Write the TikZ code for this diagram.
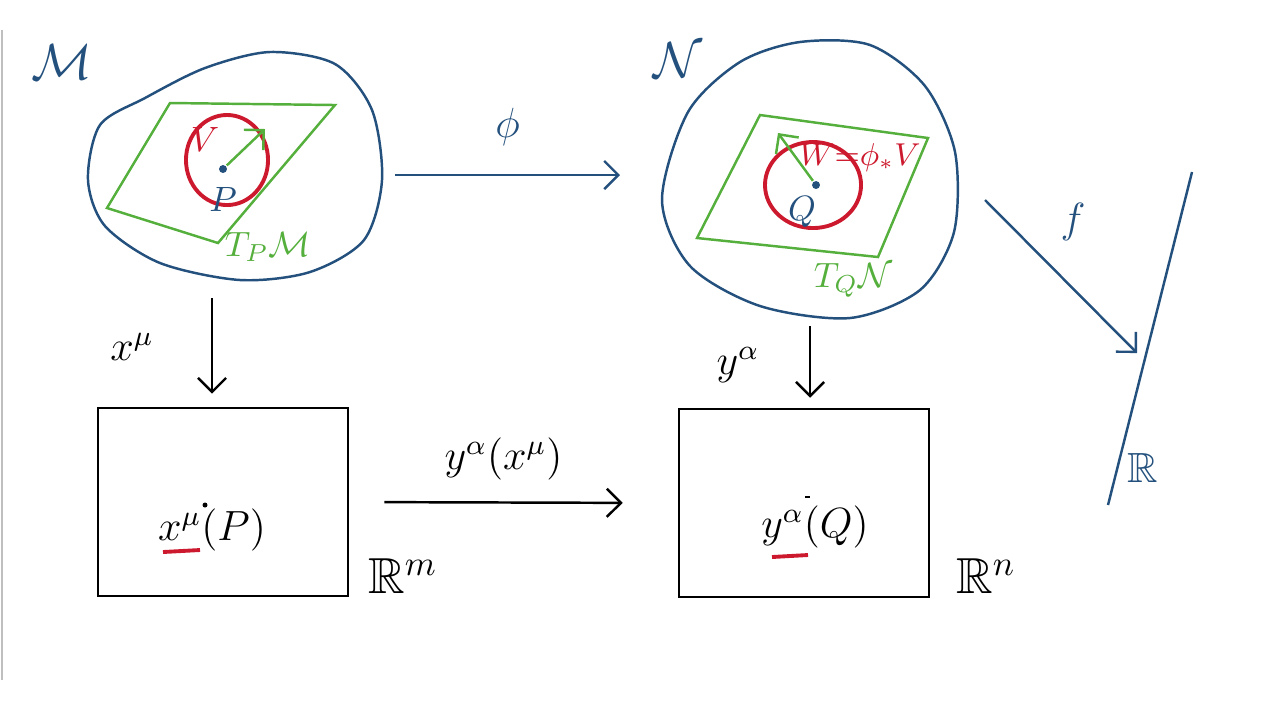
\documentclass[tikz,border=0pt]{standalone}
\usepackage{amssymb}
\usetikzlibrary{arrows.meta}
\definecolor{inkblue}{RGB}{35,80,125}
\definecolor{inkgreen}{RGB}{85,175,60}
\definecolor{inkred}{RGB}{205,25,45}

\begin{document}
\begin{tikzpicture}[x=0.01cm,y=-0.01cm,line width=0.7pt,>={Straight Barb[length=4pt,width=8pt]},
    lbl/.style={font=\large,inner sep=1pt},
    dot/.style={circle,fill=inkblue,inner sep=0.8pt},
    chart/.style={draw,black,minimum width=2.5cm,minimum height=1.88cm}]
  \useasboundingbox (0,0) rectangle (1280,720);
  \draw[black!25,line width=0.5pt] (2,30) -- (2,680);

  % Manifolds
  \draw[inkblue] plot[smooth cycle] coordinates {(88,180) (100,125) (145,98) (205,68) (270,52)
    (335,64) (372,110) (382,180) (364,240) (310,272) (240,280) (160,263) (105,226)};
  \draw[inkblue] plot[smooth cycle] coordinates {(662,200) (688,112) (740,62) (800,42) (870,45)
    (925,86) (955,152) (954,232) (920,290) (850,318) (760,306) (690,266)};
  \node[inkblue,font=\Large] (mname) at (62,62) {$\mathcal{M}$};
  \node[inkblue,font=\Large] (nname) at (678,60) {$\mathcal{N}$};

  % Tangent spaces
  \draw[inkgreen] (107,208) -- (170,103) -- (335,105) -- (218,243) -- cycle;
  \draw[inkgreen] (697,238) -- (760,115) -- (928,138) -- (878,257) -- cycle;
  \draw[inkred,line width=1.1pt] (227,160) ellipse [x radius=0.41cm,y radius=0.45cm];
  \draw[inkred,line width=1.1pt] (813,185) ellipse [x radius=0.48cm,y radius=0.43cm];

  % Points and vectors
  \node[dot] (p) at (223,169) {};
  \node[dot] (q) at (816,185) {};
  \coordinate (vtip) at (265,129);
  \coordinate (wtip) at (778,133);
  \draw[->,inkgreen] (p) -- (vtip);
  \draw[->,inkgreen] (q) -- (wtip);
  \node[inkred,inner sep=1pt] (vname) at (205,139) {$V$};
  \node[inkblue,inner sep=1pt] (pname) at (223,199) {$P$};
  \node[inkgreen,inner sep=1pt] (tpm) at (268,247) {$T_P\mathcal{M}$};
  \node[inkred,inner sep=1pt,font=\small] (wname) at (860,158) {$W{=}\phi_*V$};
  \node[inkblue,inner sep=1pt] (qname) at (802,212) {$Q$};
  \node[inkgreen,inner sep=1pt] (tqn) at (853,280) {$T_Q\mathcal{N}$};

  % Maps between manifolds
  \coordinate (mright) at (395,175);
  \coordinate (nleft) at (620,175);
  \draw[->,inkblue] (mright) -- node[lbl,above=7pt] {$\phi$} (nleft);
  \coordinate (nout) at (985,200);
  \coordinate (fend) at (1137,353);
  \draw[->,inkblue] (nout) -- (fend);
  \node[lbl,inkblue] (fname) at (1073,222) {$f$};
  \coordinate (rtop) at (1192,172);
  \coordinate (rbot) at (1108,505);
  \draw[inkblue] (rtop) -- (rbot);
  \node[lbl,inkblue] (rname) at (1143,468) {$\mathbb{R}$};

  % Charts
  \node[chart] (rm) at (223,502) {};
  \node[chart] (rn) at (804,503) {};
  \node[font=\Large] (rmname) at (403,576) {$\mathbb{R}^m$};
  \node[font=\Large] (rnname) at (986,576) {$\mathbb{R}^n$};
  \coordinate (mbot) at (212,298);
  \coordinate (nbot) at (810,326);
  \draw[->] (mbot) -- (mbot |- rm.north) [shorten >=0.13cm];
  \draw[->] (nbot) -- (nbot |- rn.north) [shorten >=0.1cm];
  \node[lbl] (xmu) at (132,347) {$x^\mu$};
  \node[lbl] (yal) at (738,365) {$y^\alpha$};
  \draw[->,shorten <=0.35cm,shorten >=0.55cm] (rm.east) -- node[lbl,above=5pt,xshift=-0.1cm] {$y^\alpha(x^\mu)$} (rn.west);

  % Coordinates of the points
  \node[lbl] (xp) at (212,530) {$x^\mu(P)$};
  \node[lbl] (yq) at (815,527) {$y^\alpha(Q)$};
  \draw[inkred,line width=1.1pt] (163,552) -- (200,550);
  \draw[inkred,line width=1.1pt] (772,557) -- (808,555);
  \fill (205,505) circle (0.025cm);
  \draw (805,497) -- (810,497);
\end{tikzpicture}
\end{document}
